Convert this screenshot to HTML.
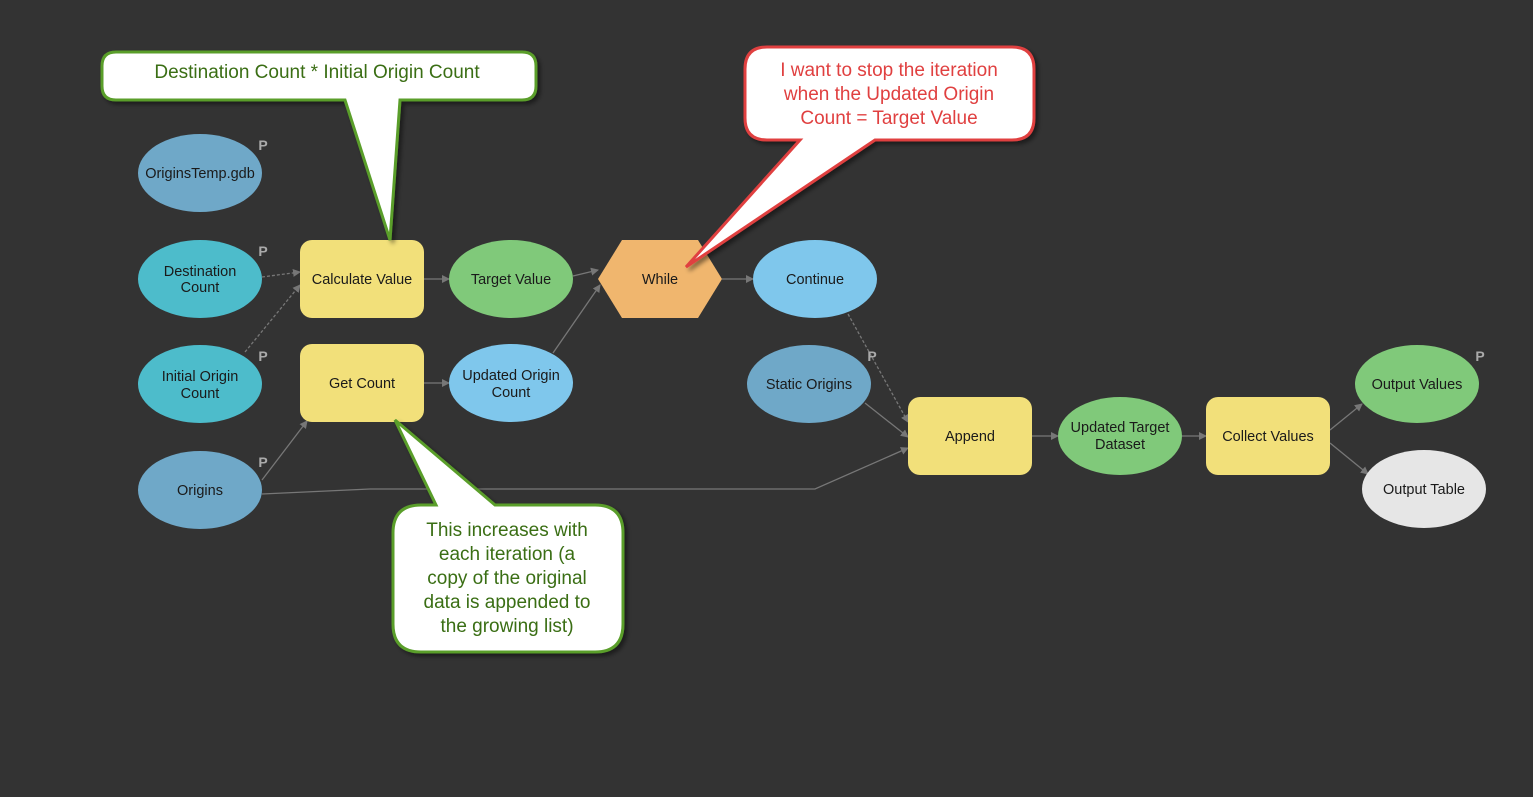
<!DOCTYPE html>
<html><head><meta charset="utf-8"><style>
html,body{margin:0;padding:0;background:#333333;}
svg{display:block;}
text{font-family:"Liberation Sans",Arial,sans-serif;}
</style></head><body>
<svg width="1533" height="797" viewBox="0 0 1533 797" xmlns="http://www.w3.org/2000/svg">
<defs>
<marker id="a" markerWidth="8" markerHeight="8" refX="7" refY="4" orient="auto" markerUnits="userSpaceOnUse"><path d="M0,0 L8,4 L0,8 Z" fill="#777"/></marker>
<filter id="sh" x="-10%" y="-10%" width="130%" height="130%"><feDropShadow dx="3" dy="3" stdDeviation="2" flood-color="#000" flood-opacity="0.45"/></filter>
</defs>
<rect width="1533" height="797" fill="#333333"/>
<g stroke="#777" stroke-width="1.3" fill="none" marker-end="url(#a)">
<line x1="262" y1="277" x2="300" y2="272" stroke-dasharray="3,2"/>
<line x1="245" y1="352" x2="300" y2="285" stroke-dasharray="3,2"/>
<line x1="424" y1="279" x2="449" y2="279"/>
<line x1="573" y1="276" x2="598" y2="270"/>
<line x1="553" y1="353" x2="600" y2="285"/>
<line x1="722" y1="279" x2="753" y2="279"/>
<line x1="424" y1="383" x2="449" y2="383"/>
<line x1="262" y1="480" x2="307" y2="421"/>
<polyline points="262,494 370,489 815,489 908,448"/>
<line x1="848" y1="314" x2="908" y2="422" stroke-dasharray="3,2"/>
<line x1="865" y1="403" x2="908" y2="437"/>
<line x1="1032" y1="436" x2="1058" y2="436"/>
<line x1="1182" y1="436" x2="1206" y2="436"/>
<line x1="1330" y1="430" x2="1362" y2="404"/>
<line x1="1330" y1="443" x2="1368" y2="474"/>
</g>
<g font-size="14.5" fill="#1a1a1a" text-anchor="middle">
<ellipse cx="200" cy="173" rx="62" ry="39" fill="#6fa8c8"/><text x="200" y="178">OriginsTemp.gdb</text>
<ellipse cx="200" cy="279" rx="62" ry="39" fill="#4dbccb"/><text x="200" y="276">Destination</text><text x="200" y="292">Count</text>
<ellipse cx="200" cy="384" rx="62" ry="39" fill="#4dbccb"/><text x="200" y="381">Initial Origin</text><text x="200" y="398">Count</text>
<ellipse cx="200" cy="490" rx="62" ry="39" fill="#6fa8c8"/><text x="200" y="495">Origins</text>
<rect x="300" y="240" width="124" height="78" rx="12" fill="#f2e07a"/><text x="362" y="284">Calculate Value</text>
<rect x="300" y="344" width="124" height="78" rx="12" fill="#f2e07a"/><text x="362" y="388">Get Count</text>
<ellipse cx="511" cy="279" rx="62" ry="39" fill="#80c97a"/><text x="511" y="284">Target Value</text>
<ellipse cx="511" cy="383" rx="62" ry="39" fill="#7fc7ec"/><text x="511" y="380">Updated Origin</text><text x="511" y="397">Count</text>
<polygon points="598,279 622,240 698,240 722,279 698,318 622,318" fill="#f0b66e"/><text x="660" y="284">While</text>
<ellipse cx="815" cy="279" rx="62" ry="39" fill="#7fc7ec"/><text x="815" y="284">Continue</text>
<ellipse cx="809" cy="384" rx="62" ry="39" fill="#6fa8c8"/><text x="809" y="389">Static Origins</text>
<rect x="908" y="397" width="124" height="78" rx="12" fill="#f2e07a"/><text x="970" y="441">Append</text>
<ellipse cx="1120" cy="436" rx="62" ry="39" fill="#80c97a"/><text x="1120" y="432">Updated Target</text><text x="1120" y="449">Dataset</text>
<rect x="1206" y="397" width="124" height="78" rx="12" fill="#f2e07a"/><text x="1268" y="441">Collect Values</text>
<ellipse cx="1417" cy="384" rx="62" ry="39" fill="#80c97a"/><text x="1417" y="389">Output Values</text>
<ellipse cx="1424" cy="489" rx="62" ry="39" fill="#e6e6e6"/><text x="1424" y="494">Output Table</text>
</g>
<g font-size="14" font-weight="bold" fill="#aaaaaa" text-anchor="middle">
<text x="263" y="150">P</text><text x="263" y="256">P</text><text x="263" y="361">P</text><text x="263" y="467">P</text><text x="872" y="361">P</text><text x="1480" y="361">P</text>
</g>
<path filter="url(#sh)" d="M116,52 H522 Q536,52 536,66 V86 Q536,100 522,100 H400 L390,240 L345,100 H116 Q102,100 102,86 V66 Q102,52 116,52 Z" fill="#fff" stroke="#5a9e2a" stroke-width="3"/>
<text x="317" y="78" font-size="19" fill="#3a6e14" text-anchor="middle">Destination Count * Initial Origin Count</text>
<path filter="url(#sh)" d="M421,505 H436 L395,420 L495,505 H595 Q623,505 623,533 V624 Q623,652 595,652 H421 Q393,652 393,624 V533 Q393,505 421,505 Z" fill="#fff" stroke="#5a9e2a" stroke-width="3"/>
<g font-size="19" fill="#3a6e14" text-anchor="middle">
<text x="507" y="536">This increases with</text><text x="507" y="560">each iteration (a</text><text x="507" y="584">copy of the original</text><text x="507" y="608">data is appended to</text><text x="507" y="632">the growing list)</text>
</g>
<path filter="url(#sh)" d="M767,47 H1012 Q1034,47 1034,69 V118 Q1034,140 1012,140 H875 L686,267 L800,140 H767 Q745,140 745,118 V69 Q745,47 767,47 Z" fill="#fff" stroke="#e04040" stroke-width="3"/>
<g font-size="19" fill="#e04040" text-anchor="middle">
<text x="889" y="76">I want to stop the iteration</text><text x="889" y="100">when the Updated Origin</text><text x="889" y="124">Count = Target Value</text>
</g>
</svg>
</body></html>
